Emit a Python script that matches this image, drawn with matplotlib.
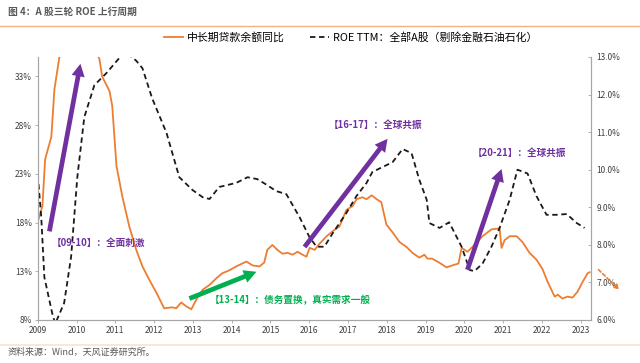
# coding=utf-8
import matplotlib
matplotlib.use("Agg")
import matplotlib.pyplot as plt
import numpy as np

plt.rcParams['font.family'] = ['Noto Sans CJK SC', 'DejaVu Sans']

# 中长期贷款余额同比 (left axis, %)
loan_t = [2009.00, 2009.12, 2009.19, 2009.35, 2009.43, 2009.55, 2009.70, 2009.90, 2010.10, 2010.35,
          2010.59, 2010.66, 2010.85, 2010.92, 2011.03, 2011.18, 2011.36, 2011.54, 2011.70, 2011.88,
          2012.06, 2012.26, 2012.47, 2012.57, 2012.70, 2012.83, 2012.96, 2013.09, 2013.25, 2013.43,
          2013.61, 2013.76, 2013.94, 2014.12, 2014.38, 2014.54, 2014.72, 2014.84, 2014.92, 2015.05,
          2015.18, 2015.31, 2015.44, 2015.57, 2015.70, 2015.83, 2015.93, 2016.01, 2016.14, 2016.26,
          2016.45, 2016.60, 2016.78, 2016.96, 2017.12, 2017.22, 2017.37, 2017.48, 2017.61, 2017.74,
          2017.86, 2017.99, 2018.15, 2018.33, 2018.51, 2018.66, 2018.84, 2018.97, 2019.05, 2019.17,
          2019.35, 2019.54, 2019.69, 2019.85, 2019.93, 2020.01, 2020.08, 2020.21, 2020.47, 2020.70,
          2020.91, 2020.96, 2021.04, 2021.17, 2021.35, 2021.50, 2021.68, 2021.86, 2022.02, 2022.15,
          2022.33, 2022.41, 2022.53, 2022.66, 2022.79, 2022.92, 2023.05, 2023.18, 2023.23]
loan_v = [18.1, 19.7, 24.5, 26.8, 31.7, 34.8, 38.0, 40.0, 39.0, 37.0,
          34.8, 33.0, 31.5, 30.0, 23.8, 20.7, 17.6, 15.2, 13.5, 12.1,
          10.8, 9.2, 9.3, 9.2, 9.8, 9.4, 9.1, 10.1, 11.1, 11.6,
          12.3, 12.8, 13.1, 13.5, 14.0, 13.6, 13.5, 13.9, 15.2, 15.7,
          15.2, 14.8, 14.9, 14.7, 15.0, 14.7, 14.5, 15.4, 15.2, 15.8,
          16.6, 17.1, 17.6, 19.3, 19.7, 20.4, 20.6, 20.4, 20.8, 20.4,
          20.1, 17.8, 17.0, 16.0, 15.5, 14.9, 14.4, 14.7, 14.3, 14.3,
          13.9, 13.4, 13.6, 13.8, 15.4, 15.2, 15.0, 15.5, 16.6, 17.3,
          17.4, 15.4, 16.2, 16.6, 16.6, 16.0, 14.9, 14.2, 13.2, 11.9,
          10.4, 10.6, 10.2, 10.4, 10.3, 10.9, 11.9, 12.8, 12.9]

# ROE TTM：全部A股（剔除金融石油石化） (right axis, %)
roe_t = [2009.00, 2009.09, 2009.17, 2009.37, 2009.45, 2009.68, 2009.86, 2010.02, 2010.20, 2010.46,
         2010.77, 2011.10, 2011.25, 2011.54, 2011.70, 2011.95, 2012.32, 2012.65, 2012.99, 2013.25,
         2013.43, 2013.68, 2014.12, 2014.41, 2014.66, 2014.90, 2015.15, 2015.41, 2015.75, 2016.01,
         2016.19, 2016.39, 2016.60, 2016.96, 2017.22, 2017.48, 2017.63, 2017.89, 2018.15, 2018.41,
         2018.64, 2018.84, 2019.03, 2019.10, 2019.36, 2019.61, 2019.93, 2020.14, 2020.26, 2020.47,
         2020.70, 2020.91, 2021.17, 2021.37, 2021.63, 2021.86, 2022.12, 2022.38, 2022.64, 2022.90,
         2023.10]
roe_v = [9.86, 8.74, 7.14, 6.19, 5.90, 6.45, 7.68, 9.80, 11.40, 12.25,
         12.57, 12.97, 13.15, 12.90, 12.70, 11.90, 10.98, 9.80, 9.46, 9.27,
         9.22, 9.54, 9.65, 9.80, 9.75, 9.60, 9.43, 9.35, 8.74, 8.20,
         7.95, 7.95, 8.30, 8.85, 9.30, 9.65, 9.94, 10.07, 10.20, 10.55,
         10.44, 9.73, 9.20, 8.58, 8.45, 8.60, 7.95, 7.33, 7.30, 7.50,
         7.95, 8.45, 9.20, 10.00, 9.90, 9.30, 8.80, 8.80, 8.82, 8.58,
         8.45]

years = list(range(2009, 2024))
left_ticks = [8, 13, 18, 23, 28, 33]
right_ticks = [6, 7, 8, 9, 10, 11, 12, 13]

orange = '#ED7D31'
purple = '#7030A0'
green = '#00B050'
axis_gray = '#A6A6A6'
text_gray = '#404040'

fig = plt.figure(figsize=(6.4, 3.63), dpi=100)
ax = fig.add_axes([0.059, 0.1185, 0.864, 0.7245])
ax2 = ax.twinx()

ax.plot(loan_t, loan_v, color=orange, lw=1.3, label='中长期贷款余额同比', zorder=2)
ax2.plot(roe_t, roe_v, color='#1a1a1a', lw=1.3, linestyle=(0, (3, 2)),
         label='ROE TTM：全部A股（剔除金融石油石化）', zorder=2)

ax.set_xlim(2009, 2023.26)
ax.set_ylim(8, 35)
ax2.set_ylim(6, 13)
ax.set_xticks(years)
ax.set_xticklabels([str(y) for y in years])
ax.set_yticks(left_ticks)
ax.set_yticklabels([f'{v}%' for v in left_ticks])
ax2.set_yticks(right_ticks)
ax2.set_yticklabels([f'{v:.1f}%' for v in right_ticks])

for a in (ax, ax2):
    a.spines['top'].set_visible(False)
    for s in ('left', 'right', 'bottom'):
        a.spines[s].set_color(axis_gray)
        a.spines[s].set_linewidth(0.8)
    a.tick_params(colors=axis_gray, labelcolor=text_gray, labelsize=6, length=2, width=0.6)
ax.tick_params(axis='y', pad=2)
ax2.tick_params(axis='y', direction='in', pad=4)
ax.tick_params(axis='x', pad=2)

# annotations (left-axis data coordinates)
arrows = [((2009.30, 17.1), (2010.10, 34.3), purple),
          ((2012.91, 10.2), (2014.64, 12.95), green),
          ((2015.88, 15.5), (2018.02, 26.6), purple),
          ((2020.08, 13.15), (2020.96, 23.5), purple)]
for tail, tip, c in arrows:
    ax2.annotate('', xy=tip, xytext=tail, xycoords=ax.transData, textcoords=ax.transData,
                 arrowprops=dict(facecolor=c, edgecolor='none', width=3.4, headwidth=9.5,
                                 headlength=9, shrink=0), zorder=5)

labels = [((2009.36, 15.9), '【09-10】：全面刺激', purple),
          ((2013.44, 10.06), '【13-14】：债务置换，真实需求一般', green),
          ((2016.50, 28.0), '【16-17】：全球共振', purple),
          ((2020.22, 25.2), '【20-21】：全球共振', purple)]
for (x, y), s, c in labels:
    ax2.text(x, y, s, transform=ax.transData, color=c, fontsize=6.9, fontweight='bold',
             va='center', ha='left', zorder=6)

# small dashed arrow beyond the right axis
ax2.annotate('', xy=(2024.05, 10.9), xytext=(2023.41, 13.36), xycoords=ax.transData,
             textcoords=ax.transData, annotation_clip=False,
             arrowprops=dict(arrowstyle='-|>', color=orange, lw=1.2, linestyle=(0, (2, 1.5)),
                             mutation_scale=7))

fig.legend(loc='center', bbox_to_anchor=(0.548, 0.898), ncol=2, frameon=False,
           fontsize=7.8, handlelength=1.7, columnspacing=2.4, handletextpad=0.35)

fig.text(0.0125, 0.967, '图 4：A 股三轮 ROE 上行周期', fontsize=7, fontweight='bold',
         color='#595959', va='center', ha='left')
fig.add_artist(plt.Line2D([0, 1], [0.928, 0.928], transform=fig.transFigure,
                          color='#F4B183', lw=1.0))
fig.add_artist(plt.Line2D([0, 1], [0.05, 0.05], transform=fig.transFigure,
                          color='#FBE0CC', lw=1.2))
fig.text(0.0125, 0.03, '资料来源：Wind，天风证券研究所。', fontsize=6.5, color='#595959',
         va='center', ha='left')

fig.savefig('out.png', dpi=100)
